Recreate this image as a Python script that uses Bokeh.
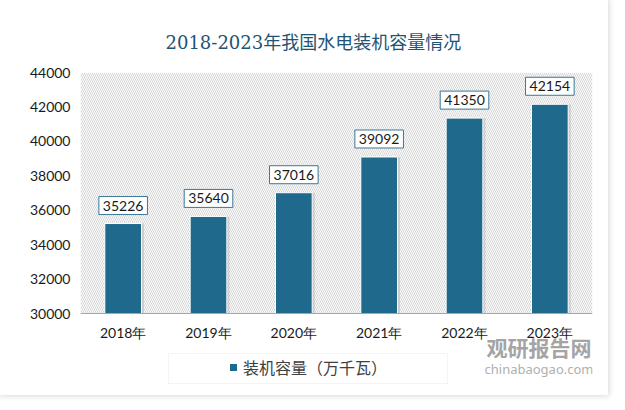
from bokeh.plotting import figure
from bokeh.models import (ColumnDataSource, Range1d, FixedTicker, Legend, LegendItem,
                          BoxAnnotation, Label, Span, Title)
from bokeh.core.properties import value
from bokeh.transform import dodge
from bokeh.embed import file_html
from bokeh.resources import INLINE

years = ["2018年", "2019年", "2020年", "2021年", "2022年", "2023年"]
capacity = [35226, 35640, 37016, 39092, 41350, 42154]
y_ticks = [30000, 32000, 34000, 36000, 38000, 40000, 42000, 44000]

title_text = "2018-2023年我国水电装机容量情况"
series_name = "装机容量（万千瓦）"
watermark_cn = "观研报告网"
watermark_en = "chinabaogao.com"

BAR = "#1f6a8c"
TITLE_C = "#1f5474"

# ---- layout constants (page pixels) ----
Y_MIN, Y_MAX = y_ticks[0], y_ticks[-1]
AXIS_PX, TOP_PX, FRAME_BOTTOM_PX = 313, 72, 393
LEFT_PX, RIGHT_PX = 80, 592
PER_PX = (Y_MAX - Y_MIN) / (AXIS_PX - TOP_PX)
CAT_PX = (RIGHT_PX - LEFT_PX) / len(years)


def y_at(py):
    return Y_MIN - (py - AXIS_PX) * PER_PX


def x_at(px):
    return (px - LEFT_PX) / CAT_PX


src = ColumnDataSource(dict(year=years, value=capacity, label=[str(v) for v in capacity]))

p = figure(x_range=years, y_range=Range1d(y_at(FRAME_BOTTOM_PX), Y_MAX), width=608, height=395,
           output_backend="svg", toolbar_location=None, x_axis_location="above",
           min_border_left=80, min_border_right=16, min_border_top=72, min_border_bottom=2,
           background_fill_color="white", border_fill_color="white")
p.styles = {"box-shadow": "0 0 6px 1px rgba(0,0,0,0.16)"}
p.outline_line_color = None
p.xgrid.grid_line_color = None
p.ygrid.grid_line_color = None

# hatched plot background
p.add_layout(BoxAnnotation(bottom=Y_MIN, top=Y_MAX, fill_alpha=0, line_alpha=0,
                           hatch_pattern="\\", hatch_color="#d4d4d4",
                           hatch_scale=4, hatch_weight=1, level="underlay"))
# category axis base line
p.add_layout(Span(location=Y_MIN, dimension="width", line_color="#a6a6a6", line_width=1))

# title
p.title = Title(text=title_text, align="left", offset=85, standoff=39,
                text_font="'DejaVu Serif', 'Noto Sans CJK SC'", text_font_size="18px",
                text_font_style="normal", text_color=TITLE_C)

# bar shadows + bars
p.vbar(x=dodge("year", 0.025, range=p.x_range), top="value", bottom=Y_MIN, width=0.44,
       source=src, fill_color="#9a9a9a", fill_alpha=0.35, line_color=None)
bars = p.vbar(x="year", top="value", bottom=Y_MIN, width=0.43, source=src,
              fill_color=BAR, line_color="white", line_width=1)

# data labels
p.text(x="year", y="value", text="label", source=src, y_offset=-9,
       text_align="center", text_baseline="bottom",
       text_font=value("Lato"), text_font_size="14px", text_color="#1a1a1a",
       background_fill_color="white", border_line_color="#3a7896",
       border_line_width=1, padding=4)

# axes
p.yaxis.ticker = FixedTicker(ticks=y_ticks)
p.yaxis.axis_line_color = None
p.yaxis.major_tick_line_color = None
p.yaxis.minor_tick_line_color = None
p.yaxis.major_tick_out = 0
p.yaxis.major_label_standoff = 10
p.yaxis.major_label_text_font = "Lato"
p.yaxis.major_label_text_font_size = "14px"
p.yaxis.major_label_text_color = "#1a1a1a"

p.xaxis.fixed_location = y_at(340)
p.xaxis.axis_line_color = None
p.xaxis.major_tick_line_color = None
p.xaxis.minor_tick_line_color = None
p.xaxis.major_tick_out = 0
p.xaxis.major_tick_in = 0
p.xaxis.major_label_standoff = 0
p.xaxis.major_label_text_font = "Lato"
p.xaxis.major_label_text_font_size = "14px"
p.xaxis.major_label_text_color = "#1a1a1a"

# legend frame + legend
p.add_layout(BoxAnnotation(left=x_at(168), right=x_at(447), top=y_at(353), bottom=y_at(383),
                           fill_color="white", fill_alpha=1, line_color="#d9d9d9", line_width=1))
legend = Legend(items=[LegendItem(label=series_name, renderers=[bars])], location=(143, 9),
                border_line_alpha=0, background_fill_alpha=0,
                glyph_width=10, glyph_height=10,
                label_text_font="Noto Sans CJK SC", label_text_font_size="16px",
                label_text_color="#404040", padding=5, margin=0, label_standoff=5)
p.add_layout(legend, "center")

# watermark
p.add_layout(Label(x=406, y=47, x_units="screen", y_units="screen", text=watermark_cn,
                   text_font="Noto Sans CJK SC", text_font_style="bold", text_font_size="21px",
                   text_color="#a4a4a4", text_baseline="middle"))
p.add_layout(Label(x=404, y=25, x_units="screen", y_units="screen", text=watermark_en,
                   text_font="Noto Sans", text_font_size="13px",
                   text_color="#b0b0b0", text_baseline="middle"))

open("out.html", "w").write(file_html(p, INLINE))
